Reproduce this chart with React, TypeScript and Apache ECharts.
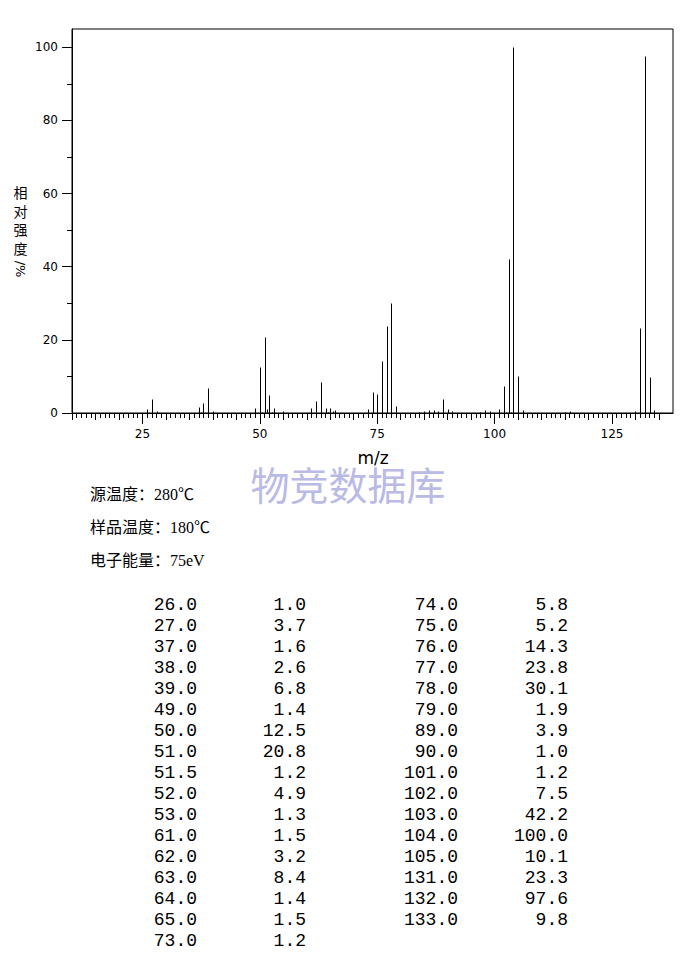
import React, { useEffect, useRef } from "react";
import * as echarts from "echarts";

// ---- data: tabulated peaks (m/z, relative intensity %) ----
const tableMz = [
  26.0, 27.0, 37.0, 38.0, 39.0, 49.0, 50.0, 51.0, 51.5, 52.0, 53.0, 61.0, 62.0, 63.0, 64.0, 65.0, 73.0,
  74.0, 75.0, 76.0, 77.0, 78.0, 79.0, 89.0, 90.0, 101.0, 102.0, 103.0, 104.0, 105.0, 131.0, 132.0, 133.0,
];
const tableIntensity = [
  1.0, 3.7, 1.6, 2.6, 6.8, 1.4, 12.5, 20.8, 1.2, 4.9, 1.3, 1.5, 3.2, 8.4, 1.4, 1.5, 1.2,
  5.8, 5.2, 14.3, 23.8, 30.1, 1.9, 3.9, 1.0, 1.2, 7.5, 42.2, 100.0, 10.1, 23.3, 97.6, 9.8,
];
// small peaks seen in the plot but not listed in the table (estimated)
const minorMz = [
  28, 37.5, 40, 50.5, 52.5, 55, 64.5, 65.5, 66, 84, 85, 86, 87, 88, 91, 97, 98, 99, 102.5, 103.5, 106,
  115, 116, 130, 134,
];
const minorIntensity = [
  0.5, 0.3, 0.5, 0.4, 0.3, 0.5, 0.4, 0.5, 0.8, 0.3, 0.6, 0.9, 0.8, 0.5, 0.5, 0.4, 0.8, 0.5, 0.3, 0.3, 0.7,
  0.4, 0.5, 0.5, 0.8,
];
const leftRows = 17;

const yLabelValues = [0, 20, 40, 60, 80, 100];
const yMinorTickValues = [10, 30, 50, 70, 90];
const xLabelValues = [25, 50, 75, 100, 125];
const xTickStart = 10;
const xTickEnd = 135;
const xMin = 10;
const xMax = 138;
const yMin = 0;
const yMax = 105;

const yNameChars = ["相", "对", "强", "度"];
const yNameUnit = "/%";
const xName = "m/z";
const watermark = "物竞数据库";
const infoLines = ["源温度：280℃", "样品温度：180℃", "电子能量：75eV"];

const smallTicks: number[] = [];
const midTicks: number[] = [];
const bigTicks: number[] = [];
for (let v = xTickStart; v <= xTickEnd; v++) {
  if (v % 25 === 0) bigTicks.push(v);
  else if (v % 5 === 0) midTicks.push(v);
  else smallTicks.push(v);
}

const spectrum = tableMz
  .map((m, i) => [m, tableIntensity[i]])
  .concat(minorMz.map((m, i) => [m, minorIntensity[i]]))
  .sort((a, b) => a[0] - b[0]);

export default function App() {
  const ref = useRef<HTMLDivElement>(null);
  useEffect(() => {
    if (!ref.current) return;
    const chart = echarts.init(ref.current, undefined, { renderer: "svg" });

    const axisFont = { fontFamily: "DejaVu Sans", fontSize: 12, color: "#000" };
    const baseX = (ticks: number[], len: number, withLine: boolean, labels?: number[]) => ({
      type: "value" as const,
      position: "bottom" as const,
      min: xMin,
      max: xMax,
      axisLine: { show: withLine, onZero: false, lineStyle: { color: "#000", width: 1 } },
      axisTick: { show: true, length: len, customValues: ticks, lineStyle: { color: "#000", width: 1 } },
      axisLabel: labels
        ? { show: true, customValues: labels, margin: 15, ...axisFont }
        : { show: false },
      splitLine: { show: false },
    });

    const graphics: any[] = [];
    // y-axis name, vertical (one upright character per line)
    graphics.push({
      type: "text",
      x: 20.5,
      y: 220,
      style: {
        text: yNameChars.join("\n"),
        fill: "#000",
        fontSize: 14,
        lineHeight: 18.5,
        fontFamily: "Noto Sans CJK SC",
        align: "center",
        verticalAlign: "middle",
      },
    });
    graphics.push({
      type: "text",
      x: 20.5,
      y: 269,
      rotation: -Math.PI / 2,
      style: {
        text: yNameUnit,
        fill: "#000",
        fontSize: 13,
        fontFamily: "DejaVu Sans",
        align: "center",
        verticalAlign: "middle",
      },
    });
    // watermark
    graphics.push({
      type: "text",
      x: 348,
      y: 483,
      style: {
        text: watermark,
        fill: "#babae6",
        fontSize: 39,
        lineHeight: 39,
        fontFamily: "Noto Sans CJK SC",
        align: "center",
        verticalAlign: "middle",
      },
    });
    // x-axis name
    graphics.push({
      type: "text",
      x: 373,
      y: 458,
      style: {
        text: xName,
        fill: "#000",
        fontSize: 17,
        lineHeight: 17,
        fontFamily: "DejaVu Sans",
        align: "center",
        verticalAlign: "middle",
      },
    });
    // info lines
    infoLines.forEach((t, i) => {
      graphics.push({
        type: "text",
        x: 90,
        y: 494 + i * 33,
        style: {
          text: t,
          fill: "#000",
          fontSize: 16,
          fontFamily: '"Liberation Serif", "Noto Sans CJK SC"',
          align: "left",
          verticalAlign: "middle",
        },
      });
    });
    // peak table
    const colRight = [197, 306, 458, 568];
    tableMz.forEach((m, i) => {
      const col = i < leftRows ? 0 : 1;
      const row = i < leftRows ? i : i - leftRows;
      const y = 605.3 + row * 21;
      const common = {
        fill: "#000",
        fontSize: 18,
        fontFamily: "Liberation Mono",
        align: "right",
        verticalAlign: "middle",
      };
      graphics.push({
        type: "text",
        x: colRight[col * 2],
        y,
        style: { ...common, text: m.toFixed(1) },
      });
      graphics.push({
        type: "text",
        x: colRight[col * 2 + 1],
        y,
        style: { ...common, text: tableIntensity[i].toFixed(1) },
      });
    });

    chart.setOption({
      animation: false,
      backgroundColor: "#fff",
      grid: {
        left: 72,
        right: 23,
        top: 29,
        bottom: 551,
        show: true,
        borderColor: "#000",
        borderWidth: 1,
        backgroundColor: "transparent",
      },
      xAxis: [
        baseX(smallTicks, 5, true),
        baseX(midTicks, 7, false),
        baseX(bigTicks, 11, false, xLabelValues),
      ],
      yAxis: [
        {
          type: "value",
          position: "left",
          min: yMin,
          max: yMax,
          axisLine: { show: true, onZero: false, lineStyle: { color: "#000", width: 1 } },
          axisTick: { show: true, length: 10, customValues: yLabelValues, lineStyle: { color: "#000" } },
          axisLabel: { show: true, customValues: yLabelValues, margin: 14, ...axisFont },
          splitLine: { show: false },
        },
        {
          type: "value",
          position: "left",
          min: yMin,
          max: yMax,
          axisLine: { show: false, onZero: false },
          axisTick: { show: true, length: 5, customValues: yMinorTickValues, lineStyle: { color: "#000" } },
          axisLabel: { show: false },
          splitLine: { show: false },
        },
      ],
      series: [
        {
          type: "custom",
          xAxisIndex: 0,
          yAxisIndex: 0,
          silent: true,
          data: spectrum,
          renderItem: (params: any, api: any) => {
            const top = api.coord([api.value(0), api.value(1)]);
            const base = api.coord([api.value(0), 0]);
            const x = Math.round(top[0]) + 0.5;
            return {
              type: "line",
              shape: { x1: x, y1: Math.round(base[1]) + 0.5, x2: x, y2: Math.round(top[1]) + 0.5 },
              style: { stroke: "#000", lineWidth: 1 },
            };
          },
        },
      ],
      graphic: graphics,
    });
    return () => chart.dispose();
  }, []);
  return (
    <div
      ref={ref}
      style={{ position: "fixed", left: 0, top: 0, width: 696, height: 964, background: "#fff" }}
    />
  );
}
